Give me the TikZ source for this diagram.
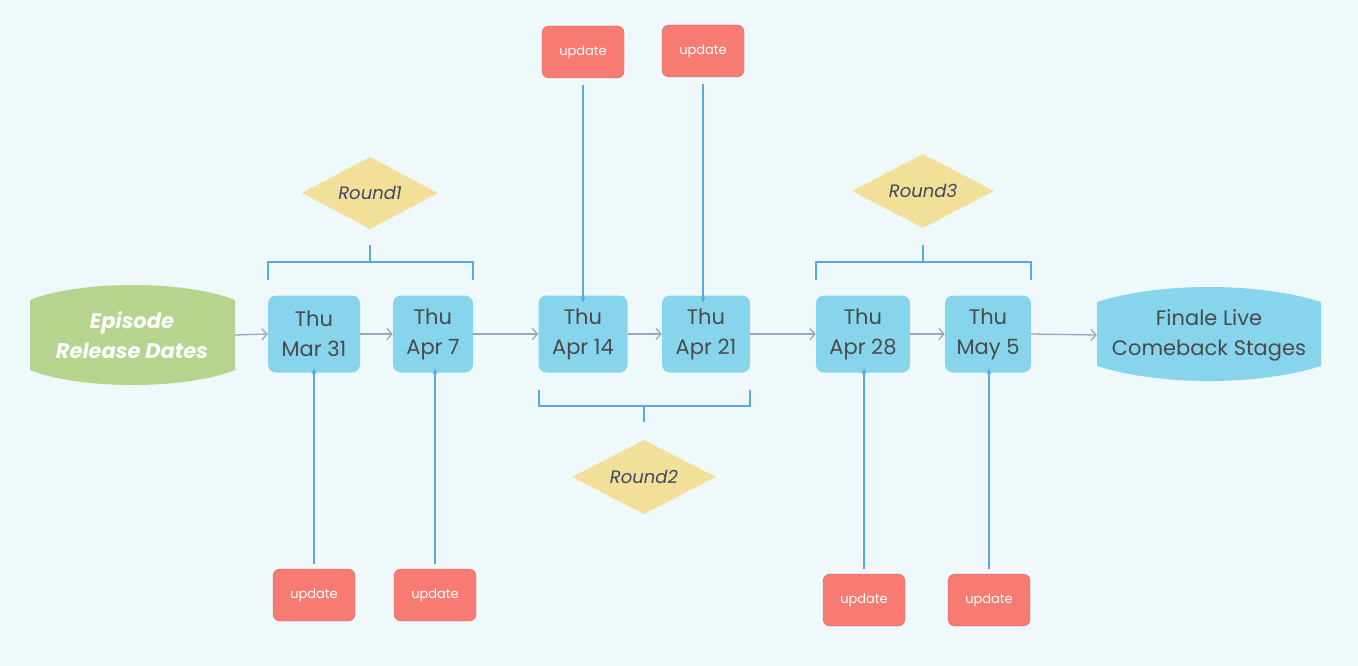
\documentclass[tikz,border=0pt]{standalone}
\usepackage{fontspec}
\setmainfont{Poppins}
\usetikzlibrary{shapes.geometric,arrows.meta}
\definecolor{bg}{HTML}{EFF8FA}
\definecolor{boxc}{HTML}{86D5EC}
\definecolor{upd}{HTML}{F77B72}
\definecolor{dia}{HTML}{F2DF98}
\definecolor{grn}{HTML}{B7D48E}
\definecolor{gline}{HTML}{9AA8BD}
\definecolor{bline}{HTML}{5AA9DC}
\definecolor{txt}{HTML}{4A4A4A}
\definecolor{dtxt}{HTML}{3C4A5F}
\begin{document}
\begin{tikzpicture}[x=1pt,y=-1pt,
  datebox/.style={fill=boxc,rounded corners=8pt,text=txt,font=\fontsize{21}{30}\selectfont,align=center,inner sep=0pt},
  updbox/.style={fill=upd,draw=upd!85!black,line width=0.4pt,rounded corners=7pt,minimum width=82pt,minimum height=52pt,text=white,font=\fontsize{13}{15}\selectfont},
  rounddia/.style={diamond,fill=dia,aspect=1.9,inner sep=0pt,minimum width=140pt,minimum height=73pt,text=dtxt,font=\itshape\fontsize{18}{20}\selectfont},
  mainarr/.style={draw=gline,line width=1.3pt,-{Straight Barb[length=5pt,width=11pt]}},
  updarr/.style={draw=bline,line width=1.1pt,-{Latex[length=6pt,width=5pt]}},
  brack/.style={draw=bline,line width=1.4pt}]
\fill[bg] (0,0) rectangle (1358,666);
\useasboundingbox (0,0) rectangle (1358,666);
% start and end shapes
\fill[grn] (30,300) .. controls (80,280) and (185,280) .. (235,300) -- (235,370) .. controls (185,390) and (80,390) .. (30,370) -- cycle;
\node[text=white,font=\bfseries\itshape\fontsize{21}{30}\selectfont,align=center,minimum width=205pt,minimum height=100pt] (ep) at (132,335) {Episode\\Release Dates};
\fill[boxc] (1097,302) .. controls (1160,282) and (1258,282) .. (1321,302) -- (1321,366) .. controls (1258,386) and (1160,386) .. (1097,366) -- cycle;
\node[text=txt,font=\fontsize{21}{30}\selectfont,align=center,minimum width=224pt,minimum height=94pt] (fin) at (1209,335) {Finale Live\\Comeback Stages};
% date boxes
\node[datebox,minimum width=92pt,minimum height=77pt] (d1) at (314,334) {Thu\\Mar 31};
\node[datebox,minimum width=80pt,minimum height=77pt] (d2) at (433,334) {Thu\\Apr 7};
\node[datebox,minimum width=89pt,minimum height=77pt] (d3) at (583,334) {Thu\\Apr 14};
\node[datebox,minimum width=88pt,minimum height=77pt] (d4) at (706,334) {Thu\\Apr 21};
\node[datebox,minimum width=94pt,minimum height=77pt] (d5) at (863,334) {Thu\\Apr 28};
\node[datebox,minimum width=86pt,minimum height=77pt] (d6) at (988,334) {Thu\\May 5};
\draw[mainarr] (ep.east) -- (d1.west);
\draw[mainarr] (d1) -- (d2);
\draw[mainarr] (d2) -- (d3);
\draw[mainarr] (d3) -- (d4);
\draw[mainarr] (d4) -- (d5);
\draw[mainarr] (d5) -- (d6);
\draw[mainarr] (d6.east) -- (fin.west);
% updates
\node[updbox] (u3) at (583,52) {update};
\node[updbox] (u4) at (703,51) {update};
\node[updbox] (u1) at (314,595) {update};
\node[updbox] (u2) at (435,595) {update};
\node[updbox] (u5) at (864,600) {update};
\node[updbox] (u6) at (989,600) {update};
\draw[updarr] ([yshift=-7pt]u3.south) -- ([yshift=-8pt]u3.south |- d3.north);
\draw[updarr] ([yshift=-7pt]u4.south) -- ([yshift=-8pt]u4.south |- d4.north);
\draw[updarr] ([yshift=5pt]u1.north) -- ([yshift=5pt]u1.north |- d1.south);
\draw[updarr] ([yshift=5pt]u2.north) -- ([yshift=5pt]u2.north |- d2.south);
\draw[updarr] ([yshift=5pt]u5.north) -- ([yshift=5pt]u5.north |- d5.south);
\draw[updarr] ([yshift=5pt]u6.north) -- ([yshift=5pt]u6.north |- d6.south);
% rounds
\node[rounddia,minimum width=136pt,minimum height=72pt] (r1) at (370,193) {Round1};
\node[rounddia,minimum width=144pt,minimum height=74pt] (r2) at (644,477) {Round2};
\node[rounddia,minimum width=142pt,minimum height=74pt] (r3) at (923,191) {Round3};
\coordinate (b1) at (370,262);
\draw[brack] (268,280) -- (268,262) -- (473,262) -- (473,280);
\draw[brack] (b1) -- (370,245);
\coordinate (b2) at (644,406);
\draw[brack] (539,390) -- (539,406) -- (750,406) -- (750,390);
\draw[brack] (b2) -- (644,422);
\coordinate (b3) at (923,262);
\draw[brack] (816,280) -- (816,262) -- (1031,262) -- (1031,280);
\draw[brack] (b3) -- (923,245);
\end{tikzpicture}
\end{document}
